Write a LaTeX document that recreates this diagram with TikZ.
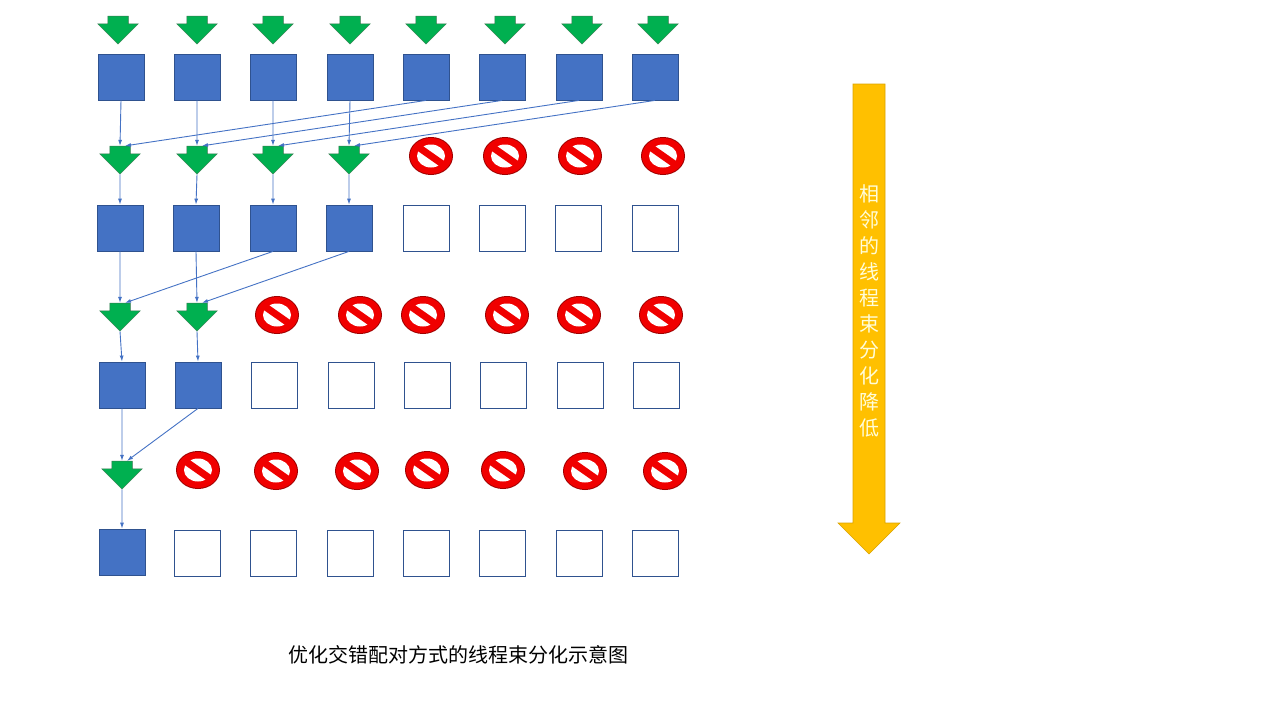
\documentclass[tikz,border=0pt]{standalone}
\usepackage{fontspec}
\newfontfamily\cjk{Noto Sans CJK SC}
\usetikzlibrary{shapes.arrows,shapes.geometric}
\definecolor{bl}{HTML}{4472C4}
\definecolor{bld}{HTML}{2F528F}
\definecolor{gr}{HTML}{00B050}
\definecolor{grd}{HTML}{3A7A50}
\definecolor{yel}{HTML}{FFC000}
\definecolor{yeld}{HTML}{D9A300}
\definecolor{rd}{HTML}{F00000}
\definecolor{rdd}{HTML}{A00000}
\tikzset{
 fullsq/.style={draw=bld,fill=bl,minimum size=46pt,inner sep=0pt,line width=0.8pt},
 emptysq/.style={draw=bld,fill=white,minimum size=46pt,inner sep=0pt,line width=0.8pt},
 garrow/.style={single arrow,shape border rotate=270,draw=grd,fill=gr,inner sep=0pt,minimum height=28pt,minimum width=40pt,single arrow head extend=10pt,single arrow tip angle=90,text width=20pt,line width=0.5pt},
 link/.style={draw=bl,line width=0.9pt,-{Latex[length=6pt,width=4pt]}},
}
\usetikzlibrary{arrows.meta}
\newcommand{\nosign}[2]{%
 \fill[rdd] (#1,#2) ellipse (22pt and 19pt);
 \fill[rd] (#1,#2) ellipse (21pt and 18pt);
 \fill[white] (#1,#2) ellipse (14pt and 11.5pt);
 \fill[rd,rotate around={-35:(#1,#2)}] (#1-15,#2-3.5) rectangle (#1+15,#2+3.5);}
\begin{document}
\begin{tikzpicture}[x=1pt,y=-1pt]
\useasboundingbox (0,0) rectangle (1280,720);
% top arrows
\foreach \x [count=\i] in {118,197,273,350,426,505,582,658}
  \node[garrow] (t\i) at (\x,25) {};
% row 1 squares
\foreach \x [count=\i] in {121,197,273,350,426,502,579,655}
  \node[fullsq] (a\i) at (\x,77) {};
% row 2 arrows
\foreach \x [count=\i] in {120,197,273,349}
  \node[garrow] (b\i) at (\x,155) {};
\nosign{431}{156}\nosign{505}{156}\nosign{580}{156}\nosign{663}{156}
% row 2 squares
\foreach \x [count=\i] in {120,196,273,349}
  \node[fullsq] (c\i) at (\x,228) {};
\foreach \x [count=\i] in {426,502,578,655}
  \node[emptysq] (ce\i) at (\x,228) {};
% row 3 arrows
\foreach \x [count=\i] in {120,197}
  \node[garrow] (d\i) at (\x,312) {};
\nosign{277}{315}\nosign{360}{315}\nosign{423}{315}\nosign{507}{315}\nosign{579}{315}\nosign{661}{315}
% row 3 squares
\foreach \x [count=\i] in {122,198}
  \node[fullsq] (e\i) at (\x,385) {};
\foreach \x [count=\i] in {274,351,427,503,580,656}
  \node[emptysq] (ee\i) at (\x,385) {};
% row 4 arrow
\node[garrow] (f1) at (122,470) {};
\nosign{198}{470}\nosign{276}{471}\nosign{357}{471}\nosign{427}{470}\nosign{503}{470}\nosign{585}{471}\nosign{665}{471}
% row 4 squares
\node[fullsq] (g1) at (122,552) {};
\foreach \x [count=\i] in {197,273,350,426,502,579,655}
  \node[emptysq] (ge\i) at (\x,553) {};
% connectors
\foreach \i in {1,...,4} {
  \draw[link] (a\i.south) -- (b\i.north);
  \draw[link] (b\i.south) -- (c\i.north);}
\draw[link] (a5.south) -- ([xshift=5pt]b1.north);
\draw[link] (a6.south) -- ([xshift=5pt]b2.north);
\draw[link] (a7.south) -- ([xshift=5pt]b3.north);
\draw[link] (a8.south) -- ([xshift=5pt]b4.north);
\draw[link] (c1.south) -- (d1.north);
\draw[link] (c2.south) -- (d2.north);
\draw[link] (c3.south) -- ([xshift=5pt]d1.north);
\draw[link] (c4.south) -- ([xshift=5pt]d2.north);
\draw[link] (d1.south) -- (e1.north);
\draw[link] (d2.south) -- (e2.north);
\draw[link] (e1.south) -- (f1.north);
\draw[link] (e2.south) -- ([xshift=5pt]f1.north);
\draw[link] (f1.south) -- (g1.north);
% big yellow arrow
\fill[yel,draw=yeld,line width=0.6pt] (853,84) -- (885,84) -- (885,523) -- (900,523) -- (869,554) -- (838,523) -- (853,523) -- cycle;
\node[text=yellow!15,font=\cjk\fontsize{20}{26}\selectfont,align=center,text width=22pt] (ylab) at (869,311) {相\\邻\\的\\线\\程\\束\\分\\化\\降\\低};
\node[font=\cjk\fontsize{20}{24}\selectfont] (cap) at (458,655) {优化交错配对方式的线程束分化示意图};
\end{tikzpicture}
\end{document}
